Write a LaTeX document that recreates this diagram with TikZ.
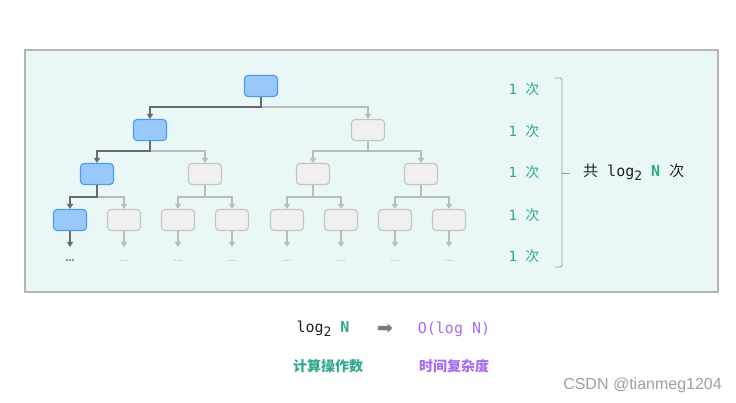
\documentclass[tikz,border=0pt]{standalone}
\usepackage{fontspec}
\setmainfont{DejaVu Sans Mono}
\newfontfamily\cjk{Noto Sans CJK SC}
\newfontfamily\symb{DejaVu Sans}
\newfontfamily\wm{Liberation Sans}
\usetikzlibrary{arrows.meta}
\definecolor{panelbg}{HTML}{EAF7F7}
\definecolor{panelbd}{HTML}{B4B4B4}
\definecolor{bfill}{HTML}{99C9FB}
\definecolor{bdraw}{HTML}{4A9BEE}
\definecolor{gfill}{HTML}{F0F0F0}
\definecolor{gdraw}{HTML}{C4C4C4}
\definecolor{lgray}{HTML}{BBBBBB}
\definecolor{dgray}{HTML}{6A6A6A}
\definecolor{tealc}{HTML}{30A88F}
\definecolor{purp}{HTML}{A66BF2}
\definecolor{txt}{HTML}{222222}
\begin{document}
\begin{tikzpicture}[x=1pt,y=-1pt,
  tnode/.style={rounded corners=3.5pt, minimum width=33pt, minimum height=21pt, inner sep=0pt, line width=1.1pt},
  bnode/.style={tnode, fill=bfill, draw=bdraw},
  gnode/.style={tnode, fill=gfill, draw=gdraw},
  lconn/.style={draw=lgray, line width=1.2pt, -{Triangle[length=5pt,width=6pt]}},
  dconn/.style={draw=dgray, line width=1.2pt, -{Triangle[length=5pt,width=6pt]}},
  cnt/.style={font=\fontsize{14}{16}\selectfont, text=tealc},
  dots/.style={font=\symb\fontsize{9}{9}\selectfont, inner sep=0pt},
  brk/.style={draw=gray!80, line width=0.9pt}
]
\useasboundingbox (0,0) rectangle (736,403);
\fill[white] (0,0) rectangle (736,403);
\draw[fill=panelbg, draw=panelbd, line width=1.2pt] (25,50) rectangle (718,292);

% nodes
\node[bnode] (r)  at (261,86) {};
\node[bnode] (a1) at (150,130) {};
\node[gnode] (a2) at (368,130) {};
\node[bnode] (b1) at (97,174) {};
\node[gnode] (b2) at (205,174) {};
\node[gnode] (b3) at (313,174) {};
\node[gnode] (b4) at (421,174) {};
\node[bnode] (c1) at (70,220) {};
\node[gnode] (c2) at (124,220) {};
\node[gnode] (c3) at (178,220) {};
\node[gnode] (c4) at (232,220) {};
\node[gnode] (c5) at (287,220) {};
\node[gnode] (c6) at (341,220) {};
\node[gnode] (c7) at (395,220) {};
\node[gnode] (c8) at (449,220) {};

% light connectors
\draw[lconn] (r.south) |- ([yshift=12pt]a2.north) -- (a2.north);
\draw[lconn] (a1.south) |- ([yshift=12pt]b2.north) -- (b2.north);
\draw[lconn] (a2.south) |- ([yshift=12pt]b3.north) -- (b3.north);
\draw[lconn] (a2.south) |- ([yshift=12pt]b4.north) -- (b4.north);
\draw[lconn] (b1.south) |- ([yshift=12pt]c2.north) -- (c2.north);
\draw[lconn] (b2.south) |- ([yshift=12pt]c3.north) -- (c3.north);
\draw[lconn] (b2.south) |- ([yshift=12pt]c4.north) -- (c4.north);
\draw[lconn] (b3.south) |- ([yshift=12pt]c5.north) -- (c5.north);
\draw[lconn] (b3.south) |- ([yshift=12pt]c6.north) -- (c6.north);
\draw[lconn] (b4.south) |- ([yshift=12pt]c7.north) -- (c7.north);
\draw[lconn] (b4.south) |- ([yshift=12pt]c8.north) -- (c8.north);
% dark connectors
\draw[dconn] (r.south) |- ([yshift=12pt]a1.north) -- (a1.north);
\draw[dconn] (a1.south) |- ([yshift=12pt]b1.north) -- (b1.north);
\draw[dconn] (b1.south) |- ([yshift=12pt]c1.north) -- (c1.north);

% leaf arrows and dots
\foreach \i/\x in {1/70,2/124,3/178,4/232,5/287,6/341,7/395,8/449}{
  \coordinate (e\i) at (\x,247);
}
\draw[dconn] (c1.south) -- (e1);
\foreach \i in {2,...,8}{ \draw[lconn] (c\i.south) -- (e\i); }
\node[dots, text=dgray] (d1) at (70,261) {\bfseries …};
\foreach \i/\x in {2/124,3/178,4/232,5/287,6/341,7/395,8/449}{
  \node[dots, text=lgray!90!black] (d\i) at (\x,261) {…};
}

% counts
\node[cnt] (n1) at (524,89) {1 {\cjk 次}};
\node[cnt] (n2) at (524,131) {1 {\cjk 次}};
\node[cnt] (n3) at (524,172) {1 {\cjk 次}};
\node[cnt] (n4) at (524,215) {1 {\cjk 次}};
\node[cnt] (n5) at (524,256) {1 {\cjk 次}};

% bracket
\coordinate (bt) at (562,78);
\coordinate (bb) at (562,267);
\coordinate (bm) at (562,173);
\draw[brk, rounded corners=1.5pt] ([xshift=-7pt]bt) -- (bt) -- (bb) -- ([xshift=-7pt]bb);
\draw[brk] (bm) -- ([xshift=8pt]bm);
\node[anchor=west, text=txt, font=\fontsize{15}{17}\selectfont, inner sep=0pt] (tot) at (583,172)
  {{\cjk 共} log\raisebox{-3.5pt}{\fontsize{13}{13}\selectfont 2} {\bfseries\color{tealc}N} {\cjk 次}};

% bottom formula
\node[text=txt, font=\fontsize{15}{17}\selectfont] (lg) at (323,329)
  {log\raisebox{-3.5pt}{\fontsize{13}{13}\selectfont 2} {\bfseries\color{tealc}N}};
\node[text=gray!95!black, font=\symb\fontsize{19}{19}\selectfont] (ar) at (385,329) {➡};
\node[text=purp, font=\fontsize{15}{17}\selectfont] (on) at (454,329) {O(log N)};
\node[text=tealc, font=\cjk\bfseries\fontsize{14}{16}\selectfont] (l1) at (328,366) {计算操作数};
\node[text=purp, font=\cjk\bfseries\fontsize{14}{16}\selectfont] (l2) at (454,366) {时间复杂度};

% watermark
\node[anchor=east, text=gray!75, font=\wm\fontsize{16}{18}\selectfont, inner sep=0pt] (wm) at (722,385) {CSDN @tianmeg1204};
\end{tikzpicture}
\end{document}
